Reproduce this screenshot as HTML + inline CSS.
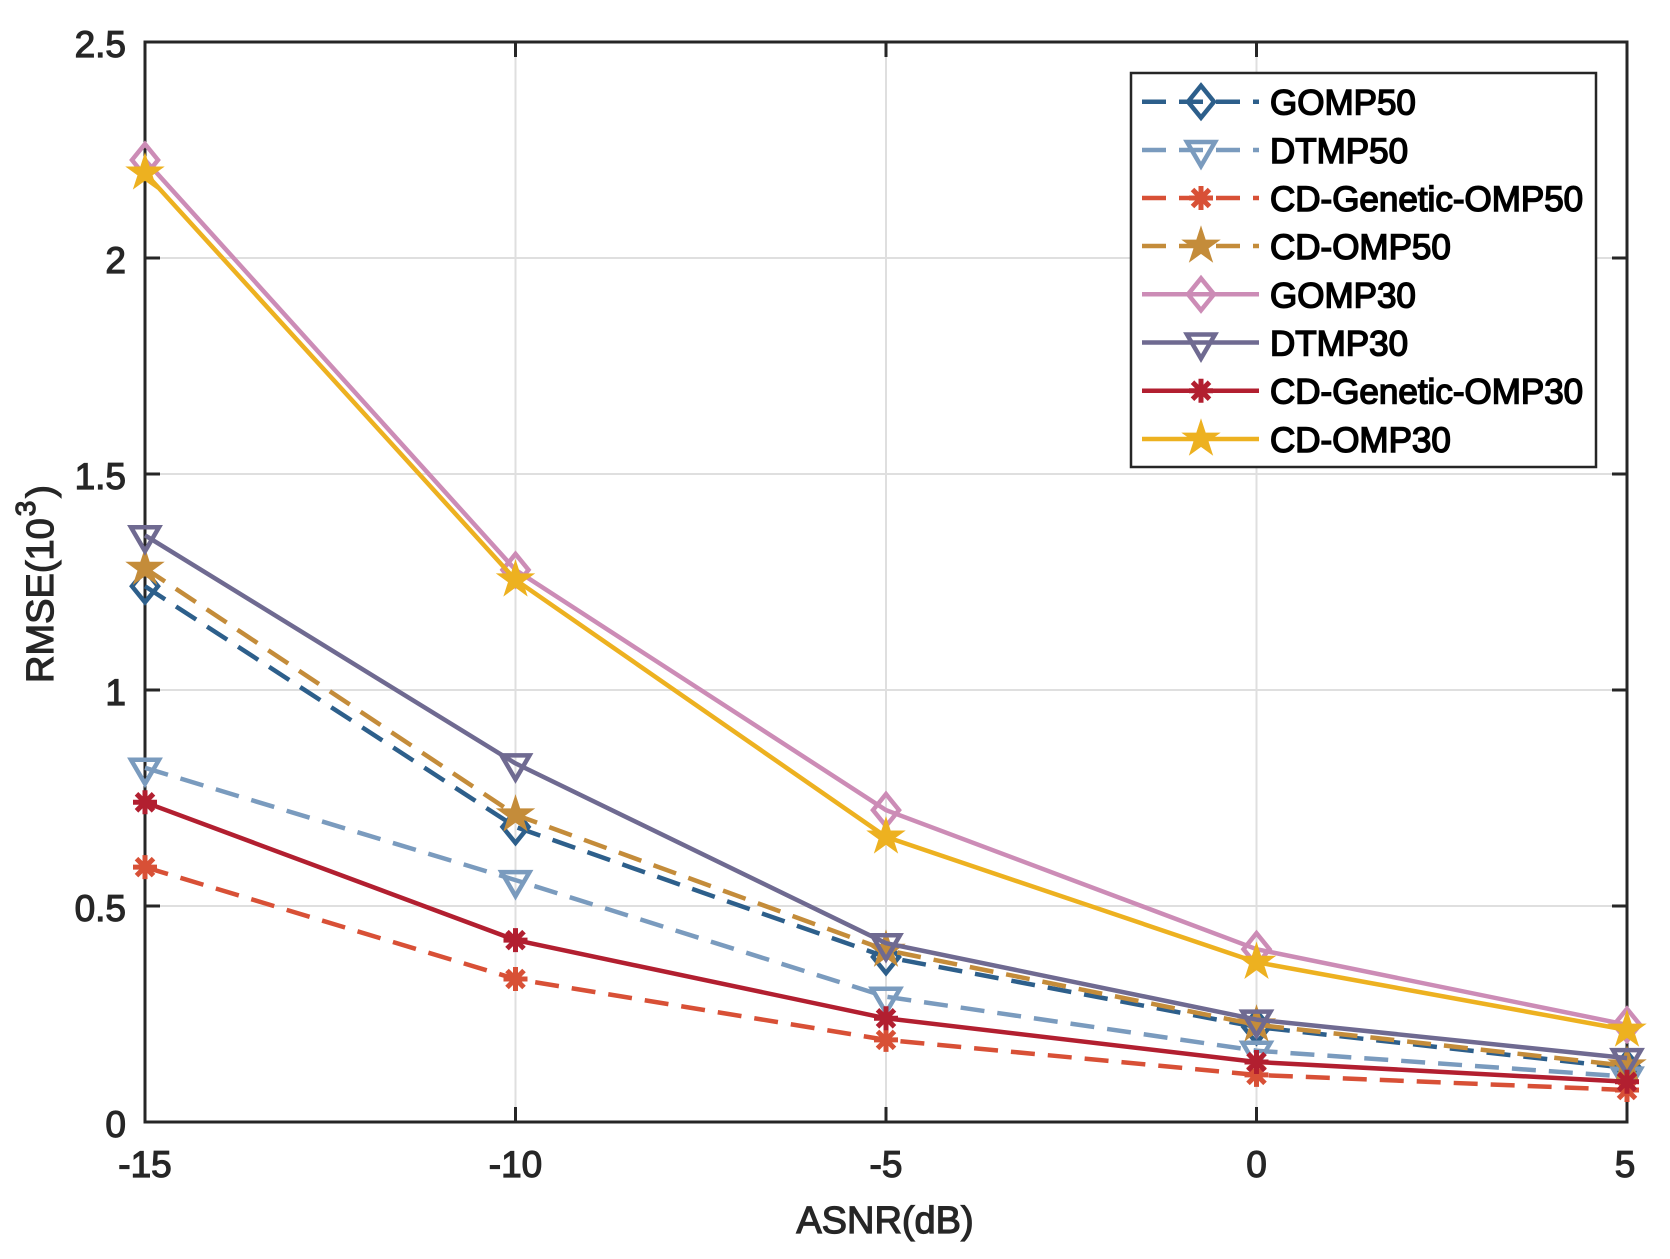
<!DOCTYPE html>
<html>
<head>
<meta charset="utf-8">
<style>
  html, body { margin: 0; padding: 0; background: #ffffff; }
  svg { display: block; }
  text { font-family: "Liberation Sans", Arial, Helvetica, sans-serif; }
</style>
</head>
<body>
<svg width="1670" height="1259" viewBox="0 0 1670 1259" xmlns="http://www.w3.org/2000/svg">
  <defs>
    <polygon id="dia" points="0,-16 13,0 0,16 -13,0" fill="none" stroke="currentColor" stroke-width="4.5" stroke-linejoin="miter"/>
    <polygon id="tri" points="-14,-8 14,-8 0,16" fill="none" stroke="currentColor" stroke-width="4.5" stroke-linejoin="miter"/>
    <path id="ast" d="M0,-12V12M-12,0H12M-8.5,-8.5L8.5,8.5M-8.5,8.5L8.5,-8.5" fill="none" stroke="currentColor" stroke-width="5"/>
    <polygon id="star" points="0,-17.5 3.93,-5.41 16.64,-5.41 6.36,2.07 10.29,14.16 0,6.69 -10.29,14.16 -6.36,2.07 -16.64,-5.41 -3.93,-5.41" fill="currentColor" stroke="currentColor" stroke-width="2" stroke-linejoin="miter"/>
  </defs>

  <rect x="0" y="0" width="1670" height="1259" fill="#ffffff"/>

  <!-- grid -->
  <g stroke="#dfdfdf" stroke-width="2">
    <line x1="515.5" y1="42" x2="515.5" y2="1122"/>
    <line x1="886" y1="42" x2="886" y2="1122"/>
    <line x1="1256.5" y1="42" x2="1256.5" y2="1122"/>
    <line x1="145" y1="906" x2="1627" y2="906"/>
    <line x1="145" y1="690" x2="1627" y2="690"/>
    <line x1="145" y1="474" x2="1627" y2="474"/>
    <line x1="145" y1="258" x2="1627" y2="258"/>
  </g>

  <!-- axes box and ticks -->
  <g stroke="#262626" stroke-width="3" fill="none">
    <rect x="145" y="42" width="1482" height="1080"/>
    <path d="M145,906H160M145,690H160M145,474H160M145,258H160"/>
    <path d="M1627,906H1612M1627,690H1612M1627,474H1612M1627,258H1612"/>
    <path d="M515.5,1122V1107M886,1122V1107M1256.5,1122V1107"/>
    <path d="M515.5,42V57M886,42V57M1256.5,42V57"/>
  </g>

  <!-- tick labels -->
  <g fill="#262626" font-size="37" stroke="#262626" stroke-width="1.2">
    <g text-anchor="end">
      <text x="126" y="1137">0</text>
      <text x="126" y="921">0.5</text>
      <text x="126" y="705">1</text>
      <text x="126" y="489">1.5</text>
      <text x="126" y="273">2</text>
      <text x="126" y="57">2.5</text>
    </g>
    <g text-anchor="middle">
      <text x="145" y="1177">-15</text>
      <text x="515.5" y="1177">-10</text>
      <text x="886" y="1177">-5</text>
      <text x="1256.5" y="1177">0</text>
      <text x="1625" y="1177">5</text>
    </g>
  </g>

  <!-- axis labels -->
  <g fill="#262626" stroke="#262626" stroke-width="1.2">
    <text x="885" y="1233" font-size="38" text-anchor="middle">ASNR(dB)</text>
    <text transform="translate(53,584) rotate(-90)" font-size="38" text-anchor="middle">RMSE(10<tspan font-size="28" dy="-18" dx="2">3</tspan><tspan dy="18" dx="3">)</tspan></text>
  </g>

  <!-- series -->
  <g fill="none" stroke-width="4.5" stroke-linejoin="round">
    <g style="color:#2D5F8B">
      <polyline points="145,586.3 515.5,826.9 886,957 1256.5,1027 1627,1068" stroke="#2D5F8B" stroke-dasharray="24 13"/>
      <use href="#dia" x="145" y="586.3"/><use href="#dia" x="515.5" y="826.9"/><use href="#dia" x="886" y="957"/><use href="#dia" x="1256.5" y="1027"/><use href="#dia" x="1627" y="1068"/>
    </g>
    <g style="color:#7A9BBE">
      <polyline points="145,767.8 515.5,880.1 886,996.7 1256.5,1050.7 1627,1076.6" stroke="#7A9BBE" stroke-dasharray="24 13"/>
      <use href="#tri" x="145" y="767.8"/><use href="#tri" x="515.5" y="880.1"/><use href="#tri" x="886" y="996.7"/><use href="#tri" x="1256.5" y="1050.7"/><use href="#tri" x="1627" y="1076.6"/>
    </g>
    <g style="color:#D85036">
      <polyline points="145,867.1 515.5,979 886,1039.9 1256.5,1074.9 1627,1090" stroke="#D85036" stroke-dasharray="24 13"/>
      <use href="#ast" x="145" y="867.1"/><use href="#ast" x="515.5" y="979"/><use href="#ast" x="886" y="1039.9"/><use href="#ast" x="1256.5" y="1074.9"/><use href="#ast" x="1627" y="1090"/>
    </g>
    <g style="color:#C48C3A">
      <polyline points="145,568.2 515.5,814.8 886,950.1 1256.5,1024.8 1627,1065.8" stroke="#C48C3A" stroke-dasharray="24 13"/>
      <use href="#star" x="145" y="568.2"/><use href="#star" x="515.5" y="814.8"/><use href="#star" x="886" y="950.1"/><use href="#star" x="1256.5" y="1024.8"/><use href="#star" x="1627" y="1065.8"/>
    </g>
    <g style="color:#CC8CB6">
      <polyline points="145,160 515.5,569.9 886,810.1 1256.5,949.2 1627,1024.8" stroke="#CC8CB6"/>
      <use href="#dia" x="145" y="160"/><use href="#dia" x="515.5" y="569.9"/><use href="#dia" x="886" y="810.1"/><use href="#dia" x="1256.5" y="949.2"/><use href="#dia" x="1627" y="1024.8"/>
    </g>
    <g style="color:#6F6A91">
      <polyline points="145,535.3 515.5,763.4 886,943.2 1256.5,1019.6 1627,1058.1" stroke="#6F6A91"/>
      <use href="#tri" x="145" y="535.3"/><use href="#tri" x="515.5" y="763.4"/><use href="#tri" x="886" y="943.2"/><use href="#tri" x="1256.5" y="1019.6"/><use href="#tri" x="1627" y="1058.1"/>
    </g>
    <g style="color:#B21F30">
      <polyline points="145,802.3 515.5,940.1 886,1018.3 1256.5,1062 1627,1081.8" stroke="#B21F30"/>
      <use href="#ast" x="145" y="802.3"/><use href="#ast" x="515.5" y="940.1"/><use href="#ast" x="886" y="1018.3"/><use href="#ast" x="1256.5" y="1062"/><use href="#ast" x="1627" y="1081.8"/>
    </g>
    <g style="color:#EDB120">
      <polyline points="145,172.9 515.5,579.8 886,836.9 1256.5,962.2 1627,1030" stroke="#EDB120"/>
      <use href="#star" x="145" y="172.9"/><use href="#star" x="515.5" y="579.8"/><use href="#star" x="886" y="836.9"/><use href="#star" x="1256.5" y="962.2"/><use href="#star" x="1627" y="1030"/>
    </g>
  </g>

  <!-- legend -->
  <rect x="1131" y="73" width="465" height="394" fill="#ffffff" stroke="#262626" stroke-width="2.5"/>
  <g fill="none" stroke-width="4.5">
    <g style="color:#2D5F8B"><line x1="1142" y1="101.7" x2="1259" y2="101.7" stroke="#2D5F8B" stroke-dasharray="24 13"/><use href="#dia" x="1201" y="101.7"/></g>
    <g style="color:#7A9BBE"><line x1="1142" y1="150" x2="1259" y2="150" stroke="#7A9BBE" stroke-dasharray="24 13"/><use href="#tri" x="1201" y="150"/></g>
    <g style="color:#D85036"><line x1="1142" y1="198" x2="1259" y2="198" stroke="#D85036" stroke-dasharray="24 13"/><use href="#ast" x="1201" y="198"/></g>
    <g style="color:#C48C3A"><line x1="1142" y1="246" x2="1259" y2="246" stroke="#C48C3A" stroke-dasharray="24 13"/><use href="#star" x="1201" y="246"/></g>
    <g style="color:#CC8CB6"><line x1="1142" y1="294.3" x2="1259" y2="294.3" stroke="#CC8CB6"/><use href="#dia" x="1201" y="294.3"/></g>
    <g style="color:#6F6A91"><line x1="1142" y1="342.5" x2="1259" y2="342.5" stroke="#6F6A91"/><use href="#tri" x="1201" y="342.5"/></g>
    <g style="color:#B21F30"><line x1="1142" y1="390.7" x2="1259" y2="390.7" stroke="#B21F30"/><use href="#ast" x="1201" y="390.7"/></g>
    <g style="color:#EDB120"><line x1="1142" y1="439" x2="1259" y2="439" stroke="#EDB120"/><use href="#star" x="1201" y="439"/></g>
  </g>
  <g fill="#000000" font-size="35" stroke="#000000" stroke-width="1.5">
    <text x="1270" y="114.5">GOMP50</text>
    <text x="1270" y="162.8">DTMP50</text>
    <text x="1270" y="211">CD-Genetic-OMP50</text>
    <text x="1270" y="259">CD-OMP50</text>
    <text x="1270" y="307.3">GOMP30</text>
    <text x="1270" y="355.5">DTMP30</text>
    <text x="1270" y="403.7">CD-Genetic-OMP30</text>
    <text x="1270" y="452">CD-OMP30</text>
  </g>
</svg>
</body>
</html>
